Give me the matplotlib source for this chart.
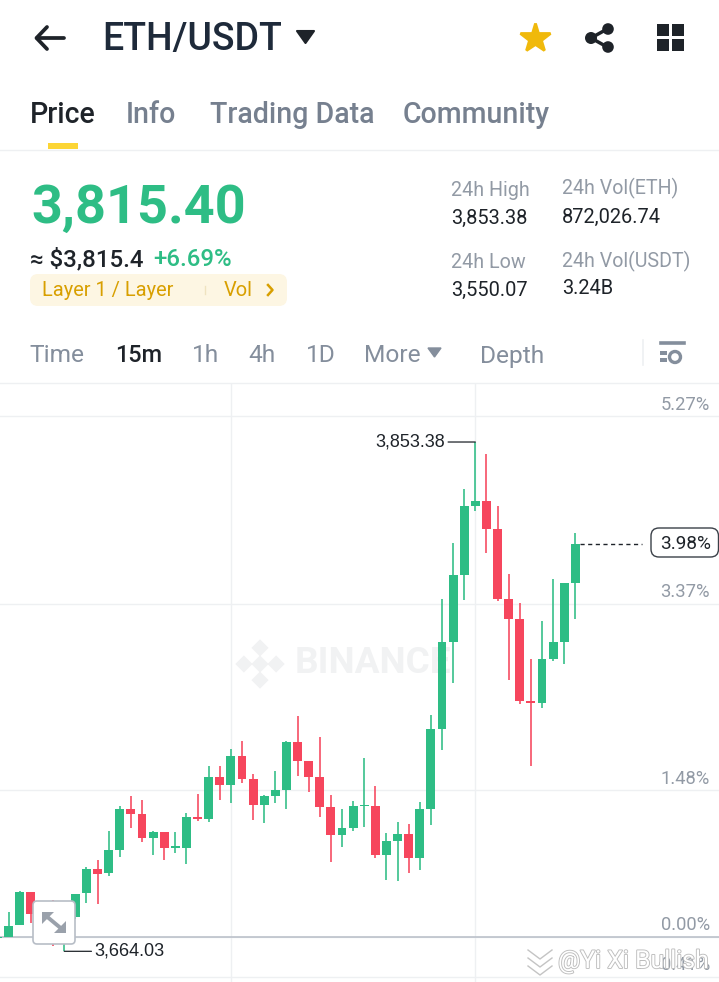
import matplotlib
matplotlib.use("Agg")
import matplotlib.pyplot as plt
from matplotlib.patches import FancyBboxPatch, Rectangle, Polygon, Circle
from matplotlib.transforms import ScaledTranslation
import matplotlib.patheffects as pe

W, H = 719, 982
pct_open = [-0.02,0.00,0.12,0.45,0.23,0.12,0.01,0.20,0.44,0.68,0.64,0.88,1.29,1.24,1.00,1.06,0.90,0.90,1.21,1.19,1.62,1.54,1.83,1.60,1.33,1.42,1.48,1.97,1.78,1.62,1.31,1.03,1.10,1.32,1.32,0.83,0.97,1.04,0.80,1.29,2.10,2.98,3.66,4.36,4.41,4.13,3.42,3.22,2.39,2.37,2.81,2.98,3.58]
pct_close = [0.00,0.11,0.45,0.23,0.12,0.00,0.21,0.43,0.68,0.63,0.88,1.29,1.24,1.00,1.06,0.90,0.92,1.21,1.19,1.62,1.54,1.83,1.60,1.33,1.42,1.48,1.97,1.78,1.62,1.31,1.03,1.10,1.32,1.33,0.83,0.97,1.04,0.80,1.29,2.10,2.98,3.66,4.36,4.41,4.13,3.42,3.22,2.39,2.37,2.81,2.98,3.58,3.98]
pct_high = [0.00,0.25,0.46,0.45,0.25,0.37,0.25,0.43,0.70,0.78,1.07,1.32,1.42,1.38,1.07,1.06,1.06,1.25,1.44,1.73,1.73,1.90,1.98,1.65,1.43,1.68,1.98,2.23,1.78,2.02,1.43,1.29,1.37,1.81,1.52,1.05,1.16,1.14,1.36,2.24,3.42,3.99,4.53,5.01,4.89,4.36,3.67,3.38,2.81,3.20,3.62,3.58,4.09]
pct_low = [-0.03,0.00,0.12,0.14,0.06,-0.10,-0.15,0.18,0.34,0.33,0.61,0.81,1.10,0.96,0.83,0.78,0.85,0.73,1.17,1.16,1.38,1.35,1.56,1.18,1.15,1.35,1.29,1.63,1.46,1.21,0.75,0.91,1.07,1.11,0.80,0.57,0.56,0.64,0.67,1.13,1.89,2.57,3.41,4.31,3.89,3.40,2.60,2.36,1.73,2.32,2.79,2.76,3.22]
y_ticks = [5.27, 3.37, 1.48, 0.00, -0.41]
y_labels = ["5.27%", "3.37%", "1.48%", "0.00%", "0.41%"]
x_grid = [21, 43]
high_label, low_label, last_label = "3,853.38", "3,664.03", "3.98%"
tabs = ["Price", "Info", "Trading Data", "Community"]
intervals = ["Time", "15m", "1h", "4h", "1D", "More", "Depth"]

GREEN, RED, DARK, GREY, LINE = "#2EBD85", "#F6465D", "#1E2329", "#848E9C", "#EEF0F2"
FONT = "Roboto"
fig = plt.figure(figsize=(W/100, H/100), dpi=100, facecolor="white")

def px_axes(z):
    a = fig.add_axes([0, 0, 1, 1], zorder=z)
    a.set_xlim(0, W); a.set_ylim(H, 0); a.axis("off"); a.patch.set_alpha(0)
    return a
bg = px_axes(1)
ui = px_axes(3)

def T(a, x, y, s, px, color=DARK, weight="normal", ha="left", family=FONT, **k):
    return a.text(x, y, s, fontsize=px*0.72, color=color, weight=weight, ha=ha, va="center", family=family, **k)

def chevrons(a, cx, cy, r, color):
    s = r*0.33
    for dx, dy in [(0,-r*0.62),(-r*0.62,0),(r*0.62,0),(0,r*0.62)]:
        a.add_patch(Polygon([(cx+dx-s,cy+dy),(cx+dx,cy+dy-s),(cx+dx+s,cy+dy),(cx+dx,cy+dy+s)], fc=color, ec="none"))
    a.add_patch(Polygon([(cx-s,cy),(cx,cy-s),(cx+s,cy),(cx,cy+s)], fc=color, ec="none"))

# watermark
chevrons(bg, 260, 664, 26, "#F1F2F3")
T(bg, 295, 663, "BINANCE", 37, "#F1F2F3", "bold")

# chart
ax = fig.add_axes([0, 0, 1, (982-383)/982], zorder=2)
ax.patch.set_alpha(0)
step, x_last, pxp, y0 = 11.11, 575.3, 98.7, 936.5
ax.set_xlim(52-x_last/step, 52+(W-x_last)/step)
ax.set_ylim((y0-982)/pxp, (y0-383)/pxp)
for s in ax.spines.values():
    s.set_visible(False)
ax.set_xticks(x_grid); ax.set_xticklabels([]); ax.tick_params(axis="x", length=0)
ax.grid(True, color=LINE, lw=1.0); ax.set_axisbelow(True)
ax.yaxis.tick_right()
ax.set_yticks(y_ticks); ax.set_yticklabels(y_labels, fontsize=13.2, color="#929AA5", family=FONT)
ax.tick_params(axis="y", length=0, pad=-6.5)
for lab in ax.get_yticklabels():
    lab.set_ha("right"); lab.set_va("bottom")
    lab.set_transform(lab.get_transform() + ScaledTranslation(0, 2/72, fig.dpi_scale_trans))
ax.axhline(0, color="#B7BDC6", lw=1.1, zorder=1)
idx = list(range(len(pct_open)))
cols = [GREEN if c >= o else RED for o, c in zip(pct_open, pct_close)]
ax.vlines(idx, pct_low, pct_high, colors=cols, lw=1.15, zorder=2)
ax.bar(idx, [c-o for o, c in zip(pct_open, pct_close)], bottom=pct_open, width=0.8, color=cols, zorder=3, linewidth=0)
ih = pct_high.index(max(pct_high)); il = pct_low.index(min(pct_low))
ax.annotate(high_label, xy=(ih, max(pct_high)), xytext=(-30, 0), textcoords="offset pixels", ha="right", va="center",
            fontsize=13, color=DARK, family="Liberation Sans",
            arrowprops=dict(arrowstyle="-", color=DARK, lw=0.9, shrinkA=0, shrinkB=0))
ax.annotate(low_label, xy=(il, min(pct_low)), xytext=(30, 0), textcoords="offset pixels", ha="left", va="center",
            fontsize=13, color=DARK, family="Liberation Sans",
            arrowprops=dict(arrowstyle="-", color=DARK, lw=0.9, shrinkA=0, shrinkB=0))
ax.plot([52.45, 58], [pct_close[-1]]*2, color=DARK, lw=1, dashes=(3, 2.5))

# header
ui.plot([37, 64], [38, 38], color=DARK, lw=2.7, solid_capstyle="round")
ui.plot([47, 36.5, 47], [27, 38, 49], color=DARK, lw=2.7, solid_capstyle="round", solid_joinstyle="round")
T(ui, 102, 39, "ETH/USDT", 37.5, "#1E2A3A", "medium")
ui.add_patch(Polygon([(297,31),(314,31),(305.5,43)], fc=DARK, ec=DARK, lw=1.5, joinstyle="round"))
ui.plot([535],[38], marker="*", ms=22, color="#F0B90B", mec="#F0B90B", mew=2, mfc="#F0B90B")
for (a,b) in [((591,38),(609,28)),((591,38),(609,48))]:
    ui.plot([a[0],b[0]],[a[1],b[1]], color=DARK, lw=2.5)
for c in [(591,38,6),(608,29,5.8),(608,47,5.8)]:
    ui.add_patch(Circle(c[:2], c[2], fc=DARK, ec="none"))
for x in (657, 672):
    for y in (24, 39):
        ui.add_patch(Rectangle((x,y), 11.5, 11.5, fc=DARK, ec="none"))

# tabs
for s, x, c in zip(tabs, [30,126,210,403], [DARK,"#76808F","#76808F","#76808F"]):
    T(ui, x, 115, s, 28.5, c, "medium")
ui.add_patch(Rectangle((48,143), 30, 6, fc="#FCD535", ec="none"))
ui.plot([0,W],[150,150], color=LINE, lw=1)

# price block
T(ui, 31, 208, "3,815.40", 54, GREEN, "bold")
T(ui, 30, 260, "≈ $3,815.4", 24, DARK, "medium")
T(ui, 153, 260, "+6.69%", 24, GREEN, "medium")
ui.add_patch(FancyBboxPatch((30,274),257,32, boxstyle="round,pad=0,rounding_size=8", fc="#FDF6E3", ec="none"))
T(ui, 42, 291, "Layer 1 / Layer", 20, "#D89F00")
T(ui, 224, 291, "Vol", 20, "#D89F00")
ui.plot([205,205],[286,294], color="#EFE3C0", lw=1)
ui.plot([268,272.5,268],[285,290,295], color="#D89F00", lw=1.8)

for x,y,s,c,px in [(451,190,"24h High","#929AA5",19.8),(451,218,"3,853.38",DARK,20),(562,188,"24h Vol(ETH)","#929AA5",19.6),(562,217,"872,026.74",DARK,20),
                   (451,262,"24h Low","#929AA5",19.8),(451,290,"3,550.07",DARK,20),(562,261,"24h Vol(USDT)","#929AA5",19.6),(562,289,"3.24B",DARK,20)]:
    T(ui, x, y, s, px, c)

# toolbar
for s, x in zip(intervals, [29.5,115,192,248,306,364,480]):
    T(ui, x, 356, s, 23.5 if s=="15m" else 24.5, DARK if s=="15m" else "#848E9C", "medium" if s=="15m" else "normal")
ui.add_patch(Polygon([(428,348),(441,348),(434.5,357)], fc="#848E9C", ec="#848E9C", lw=1))
ui.plot([643,643],[340,365], color=LINE, lw=1.2)
ui.plot([661,684],[343,343], color="#848E9C", lw=2.6)
ui.add_patch(Rectangle((660,351),7,3.5,fc="#848E9C",ec="none")); ui.add_patch(Rectangle((660,358),7,3.5,fc="#848E9C",ec="none"))
ui.add_patch(Circle((675,357),5.5,fc="white",ec="#848E9C",lw=2.4))
ui.plot([0,W],[382.5,382.5], color=LINE, lw=1)

# last-value pill
ui.add_patch(FancyBboxPatch((651,528),67.5,29, boxstyle="round,pad=0,rounding_size=8", fc="white", ec="#3A4048", lw=1))
T(ui, 686, 544, last_label, 19, DARK, ha="center")

# expand button
ui.add_patch(FancyBboxPatch((33,901),42,43, boxstyle="round,pad=0,rounding_size=4", fc="white", ec="#B7BDC6", lw=1.2))
ui.add_patch(Polygon([(42,912),(54,912),(42,924)], fc="#9AA1AB", ec="none"))
ui.add_patch(Polygon([(66,933),(54,933),(66,921)], fc="#9AA1AB", ec="none"))
ui.plot([45,63],[915,930], color="#9AA1AB", lw=2.8)

# user watermark
eff = [pe.withStroke(linewidth=1.3, foreground="#BDBDBD")]
T(ui, 558, 961, "@Yi Xi Bullish", 24.8, "white", path_effects=eff)
for dy in (-8, 0, 8):
    ui.plot([528,540,552],[958+dy,967+dy,958+dy], color="#C4C4C4", lw=1)

fig.savefig("out.png", dpi=100)
